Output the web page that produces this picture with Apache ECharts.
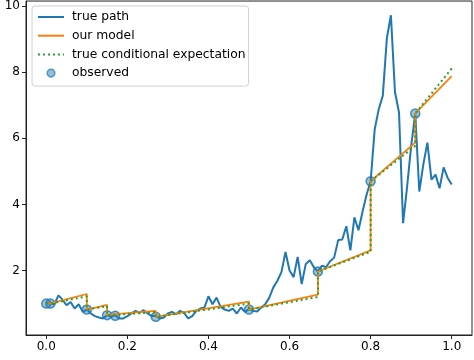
<!DOCTYPE html>
<html>
<head>
<meta charset="utf-8">
<script src="https://cdn.jsdelivr.net/npm/echarts@6/dist/echarts.min.js"></script>
<style>
  html, body { margin: 0; padding: 0; background: #fff; }
  #main { width: 474px; height: 360px; }
</style>
</head>
<body>
<div id="main"></div>
<script>
// true path, sampled every 0.01 from 0 to 1
var pathValues = [
  1.00, 1.02, 0.98, 1.25, 1.12, 0.95, 1.05, 0.85, 0.98, 0.75,
  0.82, 0.70, 0.62, 0.58, 0.55, 0.65, 0.60, 0.65, 0.55, 0.55,
  0.62, 0.70, 0.78, 0.72, 0.80, 0.70, 0.62, 0.63, 0.55, 0.58,
  0.70, 0.75, 0.68, 0.78, 0.72, 0.55, 0.62, 0.78, 0.85, 0.88,
  1.22, 0.98, 1.18, 0.90, 0.82, 0.78, 0.85, 0.70, 0.88, 0.75,
  0.83, 0.78, 0.76, 0.88, 0.98, 1.18, 1.49, 1.69, 1.95, 2.56,
  2.00, 1.80, 2.41, 1.59, 2.20, 2.31, 2.10, 1.97, 2.15, 2.10,
  2.28, 2.39, 2.92, 2.94, 3.34, 2.61, 3.61, 3.22, 3.78, 4.29,
  4.70, 6.27, 6.88, 7.29, 9.02, 9.72, 7.40, 6.78, 3.43, 4.54,
  5.77, 6.75, 4.39, 5.21, 5.87, 4.75, 4.90, 4.49, 5.12, 4.80,
  4.60
];

// observation times and values
var obsTimes  = [0.00, 0.01, 0.10, 0.15, 0.17, 0.27, 0.50, 0.67, 0.80, 0.91];
var obsValues = [1.00, 1.00, 0.82, 0.65, 0.63, 0.60, 0.82, 1.97, 4.70, 6.75];

// value reached just before the next observation (last one at t = 1)
var modelEnds = [1.01, 1.29, 0.96, 0.68, 0.78, 1.06, 1.27, 2.61, 5.87, 7.88];
var condEnds  = [1.00, 1.22, 0.92, 0.66, 0.74, 1.00, 1.20, 2.57, 5.77, 8.11];

var xTicks = [0.0, 0.2, 0.4, 0.6, 0.8, 1.0];
var yTicks = [2, 4, 6, 8, 10];

var blue = '#1f77b4', orange = '#ff7f0e', green = '#2ca02c';

var pathData = pathValues.map(function (v, i) { return [i / 100, v]; });

function jumpLine(ends) {
  var out = [];
  for (var i = 0; i < obsTimes.length; i++) {
    var tNext = i + 1 < obsTimes.length ? obsTimes[i + 1] : 1.0;
    out.push([obsTimes[i], obsValues[i]]);
    out.push([tNext, ends[i]]);
  }
  return out;
}

var obsData = obsTimes.map(function (t, i) { return [t, obsValues[i]]; });

var myChart = echarts.init(document.getElementById('main'));

var tickFont = { color: '#000', fontSize: 12, fontFamily: 'DejaVu Sans' };
var noDot = { opacity: 0 };

// small marker for the legend, drawn on a 26x12 canvas
var dotSvg = '<svg xmlns="http://www.w3.org/2000/svg" width="26" height="12">' +
  '<circle cx="13" cy="6" r="3.8" fill="rgb(31,119,180)" fill-opacity="0.6" ' +
  'stroke="rgb(31,119,180)" stroke-width="1.5"/></svg>';
var dotIcon = 'image://data:image/svg+xml;charset=utf-8,' + encodeURIComponent(dotSvg);

option = {
  animation: false,
  backgroundColor: '#fff',
  grid: {
    left: 26, right: 2, top: 1, bottom: 25,
    show: true, borderColor: '#222', borderWidth: 1
  },
  legend: {
    orient: 'vertical',
    left: 32, top: 6,
    padding: [5, 3, 7, 5],
    itemWidth: 26, itemHeight: 12,
    itemGap: 6.7,
    backgroundColor: '#fff',
    borderColor: '#d0d0d0', borderWidth: 1, borderRadius: 3,
    textStyle: { color: '#000', fontSize: 12.3, lineHeight: 12, padding: [0, 0, 0, 3],
      fontFamily: 'DejaVu Sans' },
    data: [
      { name: 'true path', itemStyle: noDot },
      { name: 'our model', itemStyle: noDot },
      { name: 'true conditional expectation', itemStyle: noDot },
      { name: 'observed', icon: dotIcon }
    ]
  },
  xAxis: {
    type: 'value',
    min: -0.05, max: 1.05,
    splitLine: { show: false },
    axisLine: { show: true, onZero: false, lineStyle: { color: '#222' } },
    axisTick: { show: true, length: 4, customValues: xTicks, lineStyle: { color: '#222' } },
    axisLabel: Object.assign({ margin: 6, customValues: xTicks,
      formatter: function (v) { return v.toFixed(1); } }, tickFont)
  },
  yAxis: {
    type: 'value',
    min: 0.05, max: 10.15,
    splitLine: { show: false },
    axisLine: { show: true, onZero: false, lineStyle: { color: '#222' } },
    axisTick: { show: true, length: 4, customValues: yTicks, lineStyle: { color: '#222' } },
    axisLabel: Object.assign({ margin: 6, customValues: yTicks }, tickFont)
  },
  series: [
    {
      name: 'true path', type: 'line', data: pathData,
      symbol: 'none', color: blue,
      lineStyle: { color: blue, width: 2 }
    },
    {
      name: 'our model', type: 'line', data: jumpLine(modelEnds),
      symbol: 'none', color: orange,
      lineStyle: { color: orange, width: 1.8 }
    },
    {
      name: 'true conditional expectation', type: 'line', data: jumpLine(condEnds),
      symbol: 'none', color: green,
      lineStyle: { color: green, width: 2, type: [2, 3] }
    },
    {
      name: 'observed', type: 'scatter', data: obsData,
      symbol: 'circle', symbolSize: 9, color: blue,
      itemStyle: { color: 'rgba(31,119,180,0.55)', borderColor: blue, borderWidth: 1.5 }
    }
  ]
};

myChart.setOption(option);
</script>
</body>
</html>
